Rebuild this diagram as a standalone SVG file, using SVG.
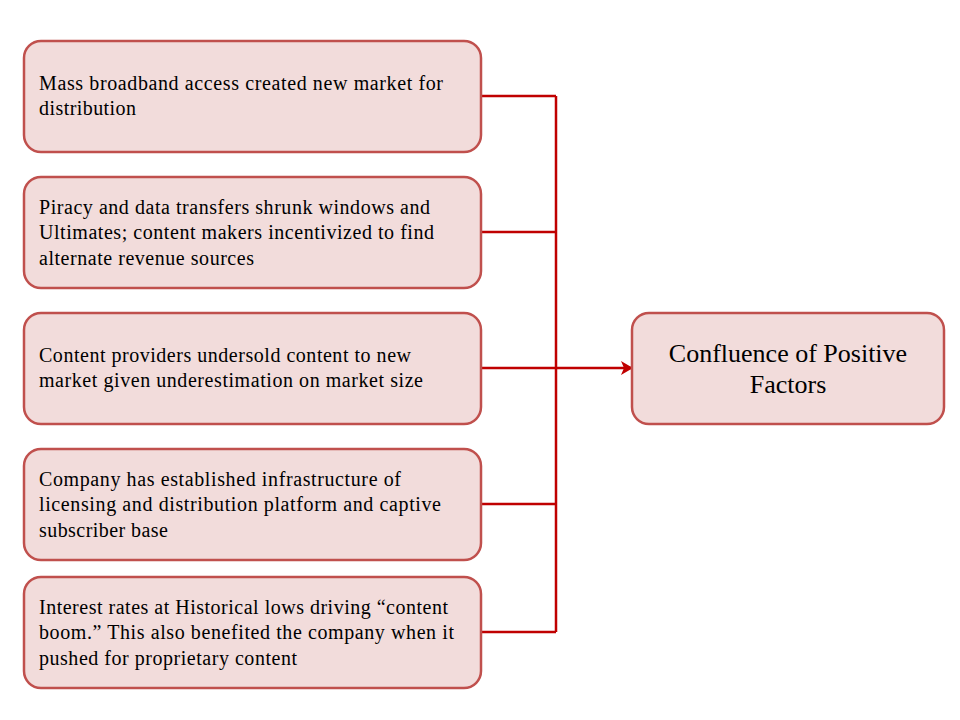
<svg xmlns="http://www.w3.org/2000/svg" width="960" height="720" viewBox="0 0 960 720">
<style>
.box{fill:#f2dcdb;stroke:#c0504d;stroke-width:2.5}
.t{font-family:"Liberation Serif","Times New Roman",serif;font-size:20px;fill:#000}
.tc{font-family:"Liberation Serif","Times New Roman",serif;font-size:26px;fill:#000;text-anchor:middle}
.c{stroke:#c00000;stroke-width:2.5;fill:none}
</style>
<defs>
<marker id="ah" viewBox="0 0 12 14" refX="11" refY="7" markerWidth="12" markerHeight="14" orient="auto" markerUnits="userSpaceOnUse">
<path d="M0,0 L12,7 L0,14 L3,7 z" fill="#c00000"/>
</marker>
</defs>
<rect width="960" height="720" fill="#fff"/>
<g id="connectors">
<path class="c" d="M481,96 H556 M481,232 H556 M481,504 H556 M481,632 H556 M556,96 V632 M481,368 H556"/>
<path class="c" d="M556,368 H632" stroke-width="3.5" marker-end="url(#ah)"/>
</g>
<g id="n1">
<rect class="box" x="24" y="41" width="457" height="111" rx="17"/>
<text class="t" x="39" y="90" textLength="404" lengthAdjust="spacing">Mass broadband access created new market for</text>
<text class="t" x="39" y="115" textLength="97" lengthAdjust="spacing">distribution</text>
</g>
<g id="n2">
<rect class="box" x="24" y="177" width="457" height="111" rx="17"/>
<text class="t" x="39" y="214" textLength="391" lengthAdjust="spacing">Piracy and data transfers shrunk windows and</text>
<text class="t" x="39" y="239" textLength="395" lengthAdjust="spacing">Ultimates; content makers incentivized to find</text>
<text class="t" x="39" y="265" textLength="215" lengthAdjust="spacing">alternate revenue sources</text>
</g>
<g id="n3">
<rect class="box" x="24" y="313" width="457" height="111" rx="17"/>
<text class="t" x="39" y="362" textLength="372" lengthAdjust="spacing">Content providers undersold content to new</text>
<text class="t" x="39" y="387" textLength="384" lengthAdjust="spacing">market given underestimation on market size</text>
</g>
<g id="n4">
<rect class="box" x="24" y="449" width="457" height="111" rx="17"/>
<text class="t" x="39" y="486" textLength="362" lengthAdjust="spacing">Company has established infrastructure of</text>
<text class="t" x="39" y="511" textLength="402" lengthAdjust="spacing">licensing  and distribution platform and captive</text>
<text class="t" x="39" y="537" textLength="129" lengthAdjust="spacing">subscriber base</text>
</g>
<g id="n5">
<rect class="box" x="24" y="577" width="457" height="111" rx="17"/>
<text class="t" x="39" y="614" textLength="409" lengthAdjust="spacing">Interest rates at Historical lows driving “content</text>
<text class="t" x="39" y="639" textLength="415" lengthAdjust="spacing">boom.” This also benefited the company when it</text>
<text class="t" x="39" y="665" textLength="258" lengthAdjust="spacing">pushed for proprietary content</text>
</g>
<g id="n6">
<rect class="box" x="632" y="313" width="312" height="111" rx="17"/>
<text class="tc" x="788" y="362">Confluence of Positive</text>
<text class="tc" x="788" y="393">Factors</text>
</g>
</svg>
